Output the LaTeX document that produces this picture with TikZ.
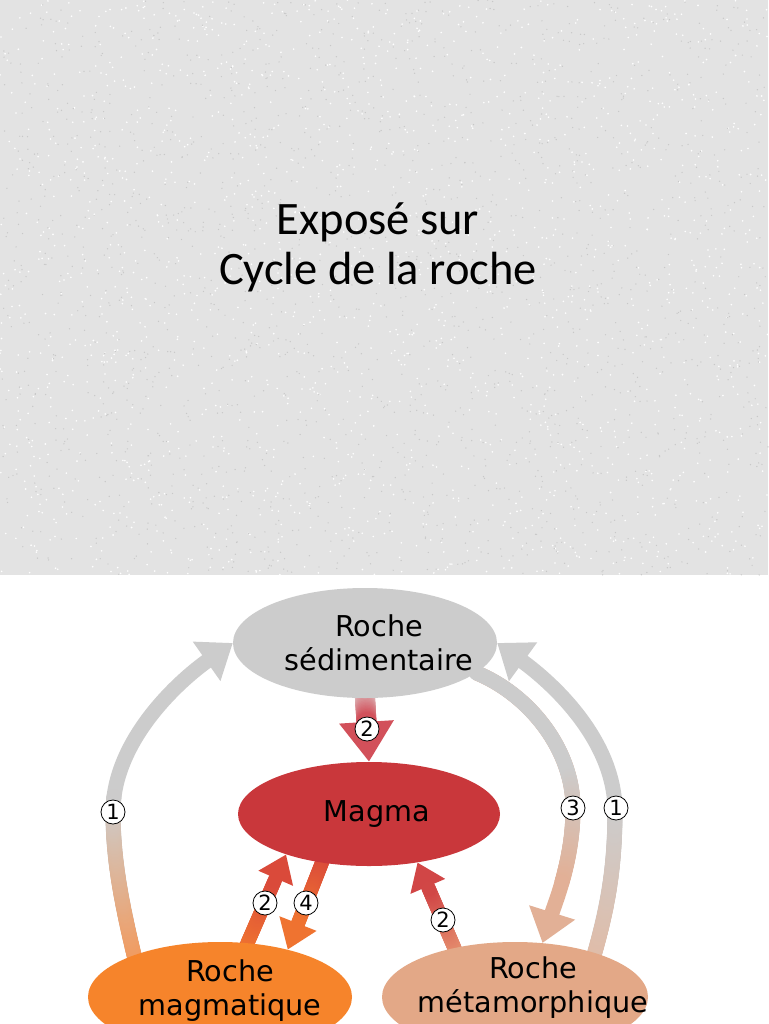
\documentclass[tikz,border=0pt]{standalone}
\usepackage{fontspec}
\setmainfont{DejaVu Sans}
\newfontfamily\titlefont{Carlito}
\usetikzlibrary{shapes.geometric,arrows.meta,decorations.markings}
\pgfdeclarelayer{back}
\pgfsetlayers{back,main}
\definecolor{paper}{HTML}{E3E3E3}
\definecolor{speck}{HTML}{C8C8C8}
\definecolor{sedgrey}{HTML}{CCCCCC}
\definecolor{magred}{HTML}{C9373B}
\definecolor{mgtorange}{HTML}{F6842B}
\definecolor{metpeach}{HTML}{E3A887}
\definecolor{arcorange}{HTML}{F29A5E}
\definecolor{arcpeach}{HTML}{E0BCA8}
\definecolor{arcpeachb}{HTML}{E2B096}
\definecolor{pinkish}{HTML}{DDBBBD}
\definecolor{pinkred}{HTML}{D2505A}
\definecolor{hotred}{HTML}{DA4A3A}
\definecolor{hotorange}{HTML}{EF7330}
\definecolor{metlow}{HTML}{E58E6E}
\definecolor{methigh}{HTML}{D14646}
\tikzset{
  title/.style={font=\titlefont\fontsize{46.5}{50}\selectfont},
  rock/.style={ellipse, inner sep=0pt, draw=none, minimum width=264pt, minimum height=110pt},
  rocktext/.style={align=center, font=\fontsize{28.7}{34}\selectfont},
  num/.style={circle, draw=black, line width=0.8pt, fill=white, inner sep=0pt,
    minimum size=24pt, font=\fontsize{21}{21}\selectfont},
  flow/.style={line width=#1, shorten <=-8pt},
  % colour #1 -> #2 between fractions #3 and #4 of the path, dots of radius #5
  grad/.style n args={5}{postaction={decorate, decoration={markings,
    mark=between positions 0 and #4 step 1.5pt with {%
      \pgfmathsetmacro\gp{max(0,min(100,100*((\pgfkeysvalueof{/pgf/decoration/mark info/distance from start}/\pgfdecoratedpathlength-#3)/(#4-#3))))}%
      \fill[#2!\gp!#1] (0,0) circle (#5);}}}},
}
\begin{document}
\begin{tikzpicture}[x=1pt,y=-1pt]
\useasboundingbox (0,0) rectangle (768,1024);
\clip (0,0) rectangle (768,1024);
\begin{pgfonlayer}{back}
\fill[white] (0,0) rectangle (768,1024);
\fill[paper] (0,0) rectangle (768,575);
\pgfmathsetseed{7}
\foreach \i in {1,...,1800}{
  \fill[white] (rnd*768,rnd*575) circle (0.9);
  \fill[speck] (rnd*768,rnd*575) circle (0.7);
}
\end{pgfonlayer}

% title
\node[title, anchor=base] (t1) at (378,235) {Exposé sur};
\node[title, anchor=base] (t2) at (378,284) {Cycle de la roche};

% rocks
\node[rock, fill=sedgrey, label={[rocktext, xshift=14pt]center:{Roche\\sédimentaire}}] (sed) at (365,643) {};
\node[rock, fill=magred, minimum width=262pt, minimum height=104pt,
  label={[rocktext, xshift=8pt]center:Magma}] (mag) at (369,814) {};
\node[rock, fill=mgtorange, label={[rocktext, xshift=10pt, yshift=6pt]center:{Roche\\magmatique}}] (mgt) at (220,997) {};
\node[rock, fill=metpeach, minimum width=266pt,
  label={[rocktext, xshift=18pt, yshift=9pt]center:{Roche\\métamorphique}}] (met) at (515,997) {};

% arrows
\begin{pgfonlayer}{back}
\draw[flow=15pt, sedgrey, -{Triangle[length=32pt,width=46pt]}, grad={arcorange}{sedgrey}{0}{0.45}{7.5pt}]
  (mgt.154) .. controls (122,905) and (113,860) .. (113,812) .. controls (113,740) and (180,680) .. (sed.west);
\draw[flow=15pt, sedgrey, -{Triangle[length=32pt,width=46pt]}, grad={arcpeach}{sedgrey}{0}{0.42}{7.5pt}]
  (met.29) .. controls (610,900) and (615,860) .. (615,808) .. controls (613,740) and (555,685) .. (sed.east);
\draw[flow=15pt, shorten <=0pt, arcpeachb, -{Triangle[length=32pt,width=46pt]}, grad={sedgrey}{arcpeachb}{0.45}{0.8}{7.5pt}]
  (sed.-15) .. controls (530,695) and (573,750) .. (573,808) .. controls (573,860) and (556,900) .. (met.63);
\draw[flow=20pt, pinkred, -{Triangle[length=40pt,width=52pt]}, grad={pinkish}{pinkred}{0}{0.38}{10pt}]
  (sed.south) -- (mag.north);
\draw[flow=14pt, hotred, -{Triangle[length=26pt,width=36pt]}, grad={hotorange}{hotred}{0}{0.7}{7pt}]
  (mgt.63) -- (mag.206);
\draw[flow=14pt, hotorange, -{Triangle[length=28pt,width=38pt]}, grad={hotred}{hotorange}{0}{0.7}{7pt}]
  (mag.226) -- (mgt.35);
\draw[flow=14pt, methigh, -{Triangle[length=26pt,width=36pt]}, grad={metlow}{methigh}{0}{0.7}{7pt}]
  (met.141) -- (mag.-45);
\end{pgfonlayer}

% step numbers
\node[num] (n1) at (113,812) {1};
\node[num] (n2) at (367,729) {2};
\node[num] (n3) at (265,903) {2};
\node[num] (n4) at (306,903) {4};
\node[num] (n5) at (443,920) {2};
\node[num] (n6) at (573,808) {3};
\node[num] (n7) at (616,808) {1};
\end{tikzpicture}
\end{document}
